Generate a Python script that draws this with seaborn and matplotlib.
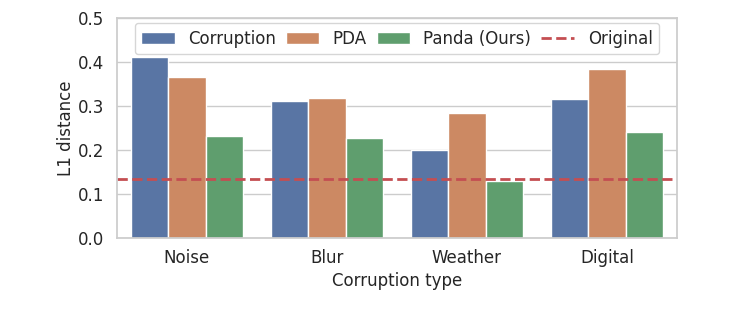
import matplotlib
matplotlib.use("Agg")
import matplotlib.pyplot as plt
import seaborn as sns
import pandas as pd

corruption_types = ["Noise", "Blur", "Weather", "Digital"]
methods = ["Corruption", "PDA", "Panda (Ours)"]
corruption_vals = [0.411, 0.311, 0.200, 0.316]
pda_vals = [0.366, 0.318, 0.284, 0.384]
panda_vals = [0.232, 0.227, 0.130, 0.241]
original_val = 0.134

rows = []
for method, vals in zip(methods, [corruption_vals, pda_vals, panda_vals]):
    for ctype, v in zip(corruption_types, vals):
        rows.append({"Corruption type": ctype, "Method": method, "L1 distance": v})
df = pd.DataFrame(rows)

sns.set_theme(style="whitegrid", rc={"xtick.labelsize": 12, "ytick.labelsize": 12,
                                     "legend.fontsize": 12, "axes.labelsize": 12})
fig = plt.figure(figsize=(7.31, 3.24), dpi=100)
ax = fig.add_axes([0.160, 0.265, 0.766, 0.679])

sns.barplot(data=df, x="Corruption type", y="L1 distance", hue="Method",
            order=corruption_types, hue_order=methods, ax=ax)
ax.axhline(original_val, color=sns.color_palette("deep")[3], linestyle="--",
           linewidth=2, label="Original")
ax.set_ylim(0, 0.5)
ax.tick_params(axis="x", pad=1.5)
ax.yaxis.labelpad = 2
ax.legend(ncol=4, loc="upper center", handletextpad=0.8, columnspacing=0.6,
          borderaxespad=0.3)
fig.savefig("out.png", dpi=100)
